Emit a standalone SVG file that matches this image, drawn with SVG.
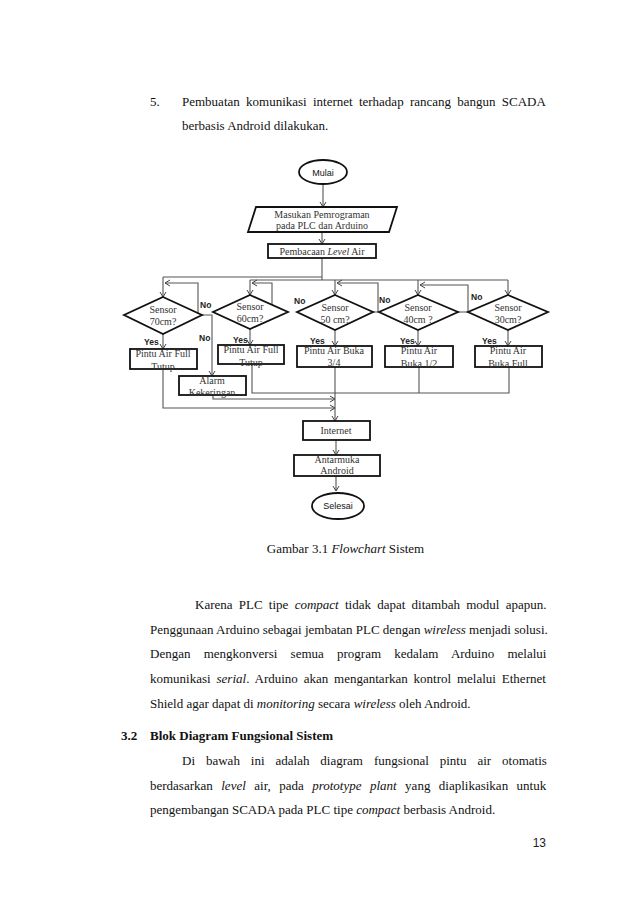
<svg xmlns="http://www.w3.org/2000/svg" width="638" height="903" viewBox="0 0 638 903">
<defs>
<marker id="arr" markerWidth="8" markerHeight="8" refX="6" refY="4" orient="auto" markerUnits="userSpaceOnUse">
<path d="M1,1 L6,4 L1,7" fill="none" stroke="#444" stroke-width="1"/>
</marker>
<style>
.body{font-family:"Liberation Serif","Times New Roman",serif;font-size:13px;fill:#111}
.i{font-style:italic}
.b{font-weight:bold}
.shape{fill:#fff;stroke:#111;stroke-width:1.8}
.nt{font-family:"Liberation Serif","Times New Roman",serif;font-size:10px;fill:#333;text-anchor:middle}
.st{font-family:"Liberation Sans",Arial,sans-serif;font-size:9px;fill:#111;text-anchor:middle}
.lbl{font-family:"Liberation Sans",Arial,sans-serif;font-size:8.5px;font-weight:bold;fill:#222}
.c{fill:none;stroke:#555;stroke-width:1.1}
.ca{fill:none;stroke:#555;stroke-width:1.1;marker-end:url(#arr)}
</style>
</defs>
<rect width="638" height="903" fill="#fff"/>

<g id="text-top">
<text class="body" x="150" y="106">5.</text>
<text class="body" x="182" y="106" word-spacing="3">Pembuatan komunikasi internet terhadap rancang bangun SCADA</text>
<text class="body" x="182" y="130">berbasis Android dilakukan.</text>
</g>

<g id="connectors">
<path class="ca" d="M323,184 V207"/>
<path class="ca" d="M322,232 V244"/>
<path class="c" d="M322,258 V280"/>
<path class="c" d="M163,277 H322"/>
<path class="ca" d="M163,277 V297"/>
<path class="c" d="M250,280 H508"/>
<path class="ca" d="M250,280 V295"/>
<path class="ca" d="M335,280 V295"/>
<path class="ca" d="M418,280 V295"/>
<path class="ca" d="M508,280 V295"/>
<path class="ca" d="M198,313 V283 H165"/>
<path class="ca" d="M288,312 H272 V283 H252"/>
<path class="ca" d="M373,312 H378 V283 H337"/>
<path class="ca" d="M458,312 H468 V285 H420"/>
<path class="ca" d="M202,315 H212 V376"/>
<path class="ca" d="M163,334 V349"/>
<path class="ca" d="M250,329 V345"/>
<path class="ca" d="M335,330 V346"/>
<path class="ca" d="M418,330 V346"/>
<path class="ca" d="M508,330 V346"/>
<path class="ca" d="M163,369 V408 H335"/>
<path class="ca" d="M213,395 V399 H335"/>
<path class="c" d="M252,364 V393 H509 V367"/>
<path class="c" d="M419,367 V393"/>
<path class="ca" d="M335,367 V421"/>
<path class="ca" d="M336,440 V455"/>
<path class="ca" d="M336,476 V491"/>
</g>

<g id="labels">
<text class="lbl" x="200" y="308">No</text>
<text class="lbl" x="199" y="341">No</text>
<text class="lbl" x="294" y="304">No</text>
<text class="lbl" x="379" y="303">No</text>
<text class="lbl" x="471" y="300">No</text>
<text class="lbl" x="144" y="345">Yes</text>
<text class="lbl" x="233" y="343">Yes</text>
<text class="lbl" x="310" y="344">Yes</text>
<text class="lbl" x="400" y="344">Yes</text>
<text class="lbl" x="482" y="344">Yes</text>
</g>

<g id="mulai">
<ellipse class="shape" cx="323" cy="172" rx="24" ry="12"/>
<text class="st" x="323" y="176">Mulai</text>
</g>
<g id="masukan">
<polygon class="shape" points="256,207 397,207 389,232 248,232"/>
<text class="nt" x="322" y="218">Masukan Pemrograman</text>
<text class="nt" x="322" y="229">pada PLC dan Arduino</text>
</g>
<g id="pembacaan">
<rect class="shape" x="268" y="244" width="108" height="14"/>
<text class="nt" x="322" y="255">Pembacaan <tspan class="i">Level</tspan> Air</text>
</g>

<g id="s70">
<polygon class="shape" points="163,297 202,315 163,334 124,315"/>
<text class="nt" x="163" y="313">Sensor</text>
<text class="nt" x="163" y="325">70cm?</text>
</g>
<g id="s60">
<polygon class="shape" points="250,295 288,312 250,329 213,312"/>
<text class="nt" x="250" y="310">Sensor</text>
<text class="nt" x="250" y="322">60cm?</text>
</g>
<g id="s50">
<polygon class="shape" points="335,295 373,312 335,330 297,312"/>
<text class="nt" x="335" y="311">Sensor</text>
<text class="nt" x="335" y="323">50 cm?</text>
</g>
<g id="s40">
<polygon class="shape" points="418,295 458,312 418,330 379,312"/>
<text class="nt" x="418" y="311">Sensor</text>
<text class="nt" x="418" y="323">40cm ?</text>
</g>
<g id="s30">
<polygon class="shape" points="508,295 548,312 508,330 468,312"/>
<text class="nt" x="508" y="311">Sensor</text>
<text class="nt" x="508" y="323">30cm?</text>
</g>

<g id="p70">
<rect class="shape" x="130" y="349" width="67" height="20"/>
<text class="nt" x="163" y="357">Pintu Air Full</text>
<text class="nt" x="163" y="370">Tutup</text>
</g>
<g id="p60">
<rect class="shape" x="218" y="345" width="66" height="19"/>
<text class="nt" x="251" y="353">Pintu Air Full</text>
<text class="nt" x="251" y="366">Tutup</text>
</g>
<g id="p50">
<rect class="shape" x="297" y="346" width="75" height="21"/>
<text class="nt" x="334" y="354">Pintu Air Buka</text>
<text class="nt" x="334" y="366">3/4</text>
</g>
<g id="p40">
<rect class="shape" x="385" y="346" width="68" height="21"/>
<text class="nt" x="419" y="354">Pintu Air</text>
<text class="nt" x="419" y="367">Buka 1/2</text>
</g>
<g id="p30">
<rect class="shape" x="475" y="346" width="67" height="21"/>
<text class="nt" x="508" y="354">Pintu Air</text>
<text class="nt" x="508" y="367">Buka Full</text>
</g>
<g id="alarm">
<rect class="shape" x="179" y="376" width="67" height="19"/>
<text class="nt" x="212" y="384">Alarm</text>
<text class="nt" x="212" y="396">Kekeringan</text>
</g>

<g id="internet">
<rect class="shape" x="303" y="421" width="67" height="19"/>
<text class="nt" x="336" y="434">Internet</text>
</g>
<g id="antarmuka">
<rect class="shape" x="294" y="455" width="86" height="21"/>
<text class="nt" x="337" y="463">Antarmuka</text>
<text class="nt" x="337" y="474">Android</text>
</g>
<g id="selesai">
<ellipse class="shape" cx="338" cy="506" rx="26" ry="13"/>
<text class="st" x="338" y="509">Selesai</text>
</g>

<g id="text-bottom">
<text class="body" x="345.5" y="553" text-anchor="middle">Gambar 3.1 <tspan class="i">Flowchart</tspan> Sistem</text>
<text class="body" x="195" y="609" word-spacing="3">Karena PLC tipe <tspan class="i">compact</tspan> tidak dapat ditambah modul apapun.</text>
<text class="body" x="150" y="634">Penggunaan Arduino sebagai jembatan PLC dengan <tspan class="i">wireless</tspan> menjadi solusi.</text>
<text class="body" x="150" y="658" word-spacing="10">Dengan mengkonversi semua program kedalam Arduino melalui</text>
<text class="body" x="150" y="683" word-spacing="2.6">komunikasi <tspan class="i">serial</tspan>. Arduino akan mengantarkan kontrol melalui Ethernet</text>
<text class="body" x="150" y="708">Shield agar dapat di <tspan class="i">monitoring</tspan> secara <tspan class="i">wireless</tspan> oleh Android.</text>
<text class="body b" x="121" y="740">3.2</text>
<text class="body b" x="150" y="740">Blok Diagram Fungsional Sistem</text>
<text class="body" x="182" y="765" word-spacing="7.7">Di bawah ini adalah diagram fungsional pintu air otomatis</text>
<text class="body" x="150" y="790" word-spacing="5.2">berdasarkan <tspan class="i">level</tspan> air, pada <tspan class="i">prototype plant</tspan> yang diaplikasikan untuk</text>
<text class="body" x="150" y="814">pengembangan SCADA pada PLC tipe <tspan class="i">compact</tspan> berbasis Android.</text>
<text x="546" y="847" text-anchor="end" style="font-family:'Liberation Sans',Arial,sans-serif;font-size:12px;fill:#222">13</text>
</g>
</svg>
